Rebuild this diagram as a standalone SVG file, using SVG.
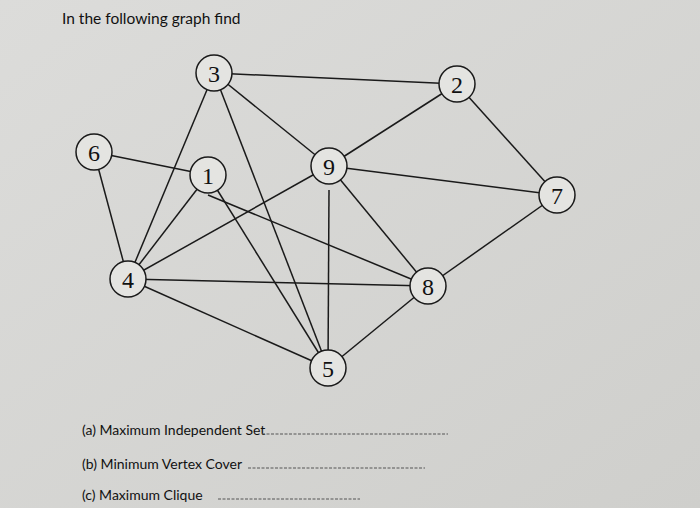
<svg xmlns="http://www.w3.org/2000/svg" width="700" height="508" viewBox="0 0 700 508">
<defs><linearGradient id="bg" x1="0" y1="0" x2="1" y2="1"><stop offset="0" stop-color="#dcdcda"/><stop offset="1" stop-color="#cfcfcc"/></linearGradient></defs>
<style>
.e{stroke:#1a1a1a;stroke-width:1.5;fill:none}
.n circle{fill:#e4e4e1;stroke:#1a1a1a;stroke-width:1.5}
.n text{font-family:"Liberation Serif",serif;font-size:24px;fill:#111;text-anchor:middle}
.t{font-family:Lato,"Liberation Sans",sans-serif;fill:#111}
.d{stroke:#555;stroke-width:1;stroke-dasharray:3,1.5}
</style>
<rect width="700" height="508" fill="url(#bg)"/>
<text class="t" x="62" y="24" font-size="15.5">In the following graph find</text>
<g id="edges">
<line class="e" x1="214" y1="73" x2="457" y2="84"/>
<line class="e" x1="214" y1="73" x2="329" y2="166"/>
<line class="e" x1="214" y1="73" x2="128" y2="279"/>
<line class="e" x1="214" y1="73" x2="328" y2="368"/>
<line class="e" x1="457" y1="84" x2="329" y2="166"/>
<line class="e" x1="457" y1="84" x2="557" y2="195"/>
<line class="e" x1="94" y1="152" x2="208" y2="175"/>
<line class="e" x1="94" y1="152" x2="128" y2="279"/>
<line class="e" x1="208" y1="175" x2="128" y2="279"/>
<line class="e" x1="208" y1="175" x2="328" y2="368"/>
<line class="e" x1="208" y1="195" x2="428" y2="286"/>
<line class="e" x1="329" y1="166" x2="557" y2="195"/>
<line class="e" x1="329" y1="166" x2="428" y2="286"/>
<line class="e" x1="329" y1="166" x2="128" y2="279"/>
<line class="e" x1="329" y1="190" x2="328" y2="368"/>
<line class="e" x1="128" y1="279" x2="428" y2="286"/>
<line class="e" x1="128" y1="279" x2="328" y2="368"/>
<line class="e" x1="428" y1="286" x2="328" y2="368"/>
<line class="e" x1="428" y1="286" x2="557" y2="195"/>
</g>
<g id="n3" class="n"><circle cx="214" cy="73" r="18"/><text x="214" y="82">3</text></g>
<g id="n2" class="n"><circle cx="457" cy="84" r="18"/><text x="457" y="93">2</text></g>
<g id="n6" class="n"><circle cx="94" cy="152" r="18"/><text x="94" y="161">6</text></g>
<g id="n1" class="n"><circle cx="208" cy="175" r="18"/><text x="208" y="184">1</text></g>
<g id="n9" class="n"><circle cx="329" cy="166" r="18"/><text x="329" y="175">9</text></g>
<g id="n7" class="n"><circle cx="557" cy="195" r="18"/><text x="557" y="204">7</text></g>
<g id="n4" class="n"><circle cx="128" cy="279" r="18"/><text x="128" y="288">4</text></g>
<g id="n8" class="n"><circle cx="428" cy="286" r="18"/><text x="428" y="295">8</text></g>
<g id="n5" class="n"><circle cx="328" cy="368" r="18"/><text x="328" y="377">5</text></g>
<text class="t" x="82" y="435" font-size="14">(a) Maximum Independent Set</text>
<line class="d" x1="262" y1="434" x2="448" y2="434"/>
<text class="t" x="82" y="469" font-size="14">(b) Minimum Vertex Cover</text>
<line class="d" x1="248" y1="468" x2="425" y2="468"/>
<text class="t" x="82" y="500" font-size="14">(c) Maximum Clique</text>
<line class="d" x1="218" y1="499" x2="360" y2="499"/>
</svg>
